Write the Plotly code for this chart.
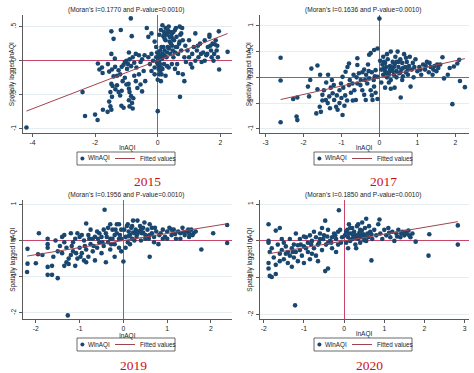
import plotly.graph_objects as go

# ---------------- data ----------------
years = ["2015", "2017", "2019", "2020"]
moran_i = [0.1770, 0.1636, 0.1956, 0.1850]
p_values = [0.0010, 0.0010, 0.0010, 0.0010]
fit_intercepts = [0.003, -0.005, 0.000, -0.002]

x_tickvals = [[-4, -2, 0, 2], [-3, -2, -1, 0, 1, 2], [-2, -1, 0, 1, 2], [-2, -1, 0, 1, 2, 3]]
x_ticktext = [["-4", "-2", "0", "2"], ["-3", "-2", "-1", "0", "1", "2"],
              ["-2", "-1", "0", "1", "2"], ["-2", "-1", "0", "1", "2", "3"]]
y_tickvals = [[0.5, 0, -0.5, -1], [1, 0.5, 0, -0.5, -1], [1, 0, -1, -2], [1, 0, -1, -2]]
y_ticktext = [[".5", "0", "-.5", "-1"], ["1", ".5", "0", "-.5", "-1"],
              ["1", "0", "-1", "-2"], ["1", "0", "-1", "-2"]]

pts_2015 = [
    (-4.19, -0.98), (-2.40, -0.46), (-2.32, -0.81), (-2.0, -0.79), (-1.92, -0.87),
    (-1.91, -0.04), (-1.78, -0.10), (-1.86, -0.13), (-1.76, -0.18), (-1.59, -0.05), (-1.55, -0.16),
    (-1.46, -0.13), (-1.36, -0.09), (-1.25, -0.14), (-1.20, -0.20), (-1.15, -0.09), (-1.09, -0.06),
    (-1.30, -0.22), (-1.41, -0.23), (-1.37, 0.03), (-1.48, 0.10), (-1.05, -0.02), (-1.0, 0.0),
    (-0.95, -0.05), (-0.9, 0.02), (-0.85, -0.08), (-0.8, 0.05), (-0.75, -0.03), (-0.7, 0.1),
    (-0.92, 0.12), (-0.6, 0.08), (-0.55, -0.02),
    (-1.48, 0.43), (-1.18, 0.45), (-1.41, 0.32), (-0.86, 0.62), (-0.83, 0.36),
    (-1.48, -0.34), (-1.44, -0.37), (-1.35, -0.42), (-1.25, -0.46), (-1.15, -0.44), (-1.20, -0.51),
    (-1.30, -0.36), (-1.51, -0.46), (-1.46, -0.53), (-1.55, -0.60), (-1.51, -0.67), (-1.48, -0.72),
    (-1.16, -0.66), (-1.09, -0.69), (-1.75, -0.72), (-1.6, -0.75),
    (-0.93, -0.34), (-0.92, -0.41), (-0.9, -0.46), (-0.92, -0.58), (-0.9, -0.67), (-0.85, -0.52),
    (-0.82, -0.62), (-0.8, -0.7), (-0.78, -0.55), (-1.0, -0.35), (-1.05, -0.25), (-0.7, -0.3),
    (-0.65, -0.4), (-0.6, -0.2), (-0.55, -0.35), (-0.5, -0.45), (-0.75, -0.22), (-0.45, -0.15),
    (-0.4, -0.3), (-1.12, -0.3), (-0.98, -0.12), (-0.68, -0.1), (-0.5, 0.02), (-0.42, 0.08),
    (-0.3, 0.05), (-0.25, -0.05), (-0.2, 0.1), (-0.15, 0.0), (-0.1, -0.1), (-0.05, 0.05),
    (0.0, -0.05), (0.02, 0.1), (0.05, 0.0), (0.08, -0.15), (0.1, 0.05), (0.12, -0.2), (0.15, 0.1),
    (0.18, 0.2), (0.2, -0.05), (0.22, 0.15), (0.25, 0.3), (0.28, 0.05), (0.3, 0.4), (0.32, 0.2),
    (0.35, -0.1), (0.38, 0.35), (0.4, 0.1), (0.42, 0.25), (0.45, 0.4), (0.48, 0.15), (0.5, 0.05),
    (0.52, 0.3), (0.55, 0.45), (0.58, 0.2), (0.6, 0.35), (0.62, -0.05), (0.65, 0.1), (0.68, 0.25),
    (0.7, 0.5), (0.72, 0.38), (0.75, 0.15), (0.78, 0.48), (0.8, 0.3), (0.85, 0.05), (0.88, 0.22),
    (0.9, -0.02),
    (-0.35, 0.48), (-0.3, 0.35), (-0.2, 0.4), (-0.1, 0.28), (-0.05, 0.2), (0.05, 0.38), (0.1, 0.45),
    (0.15, 0.52), (0.2, 0.42), (0.25, 0.48), (0.35, 0.5), (0.4, 0.42), (0.05, -0.2), (0.0, -0.28),
    (0.1, -0.3), (0.15, -0.12), (0.25, -0.22), (0.3, -0.08), (0.45, -0.05), (0.55, -0.12),
    (0.65, -0.18), (0.8, -0.2), (0.85, -0.3), (-0.1, -0.2), (-0.2, -0.15), (0.02, 0.02),
    (0.04, -0.08), (0.06, 0.08), (-0.02, 0.12),
    (0.28, 0.38), (0.33, 0.44), (0.38, 0.28), (0.43, 0.36), (0.48, 0.32), (0.5, 0.42),
    (0.22, 0.32), (0.18, 0.36), (0.12, 0.2), (0.08, 0.15), (0.03, -0.12), (-0.03, -0.02),
    (0.07, -0.05), (0.1, -0.1), (0.14, 0.03), (0.2, 0.08), (0.3, 0.12), (0.36, 0.18),
    (0.46, 0.22), (0.55, 0.12), (0.62, 0.2), (0.7, 0.28), (0.75, 0.4), (0.58, 0.48),
    (1.0, 0.05), (1.05, -0.05), (1.1, 0.1), (1.15, 0.2), (1.2, 0.0), (1.25, 0.15), (1.3, 0.05),
    (1.35, 0.25), (1.4, -0.02), (1.45, 0.12), (1.5, 0.3), (1.55, 0.08), (1.6, 0.2), (1.65, 0.35),
    (1.7, 0.15), (1.75, 0.25), (1.8, 0.1), (1.85, 0.3), (1.9, 0.22), (1.92, 0.05), (1.2, 0.4),
    (1.65, 0.38), (1.0, 0.3), (0.95, 0.15), (1.1, -0.1), (1.5, 0.0), (1.78, -0.0), (1.58, 0.1),
    (1.38, 0.1), (1.68, 0.22), (1.88, 0.15), (1.28, 0.22), (1.72, 0.05), (1.82, 0.24),
    (0.0, -0.74), (0.71, -0.53), (1.96, -0.13), (2.23, 0.13), (1.95, 0.43),
]

pts_2017 = [
    (0.0, 1.14), (-2.6, 0.38), (-2.6, -0.06), (-2.6, -0.87), (-2.27, -0.42), (-2.16, -0.39),
    (-2.18, -0.76), (-2.16, -0.83),
    (-1.85, -0.37), (-1.82, -0.05), (-1.79, 0.17), (-1.88, -0.18), (-1.63, 0.23), (-1.56, 0.05),
    (-1.63, -0.23), (-1.50, -0.34), (-1.57, -0.57), (-1.66, -0.70), (-1.54, -0.67), (-1.46, -0.25),
    (-1.41, -0.44), (-1.36, -0.5), (-1.32, -0.37), (-1.23, -0.31), (-1.19, -0.44), (-1.14, -0.57),
    (-1.10, -0.63), (-1.05, -0.25), (-1.01, -0.12), (-0.97, 0.01), (-0.97, -0.73), (-0.89, 0.11),
    (-0.84, 0.2), (-0.8, 0.27), (-0.71, -0.12), (-0.66, -0.25), (-0.62, -0.44), (-0.58, -0.12),
    (-0.54, 0.08), (-0.49, -0.05), (-0.45, -0.25), (-0.4, -0.34), (-0.36, -0.44), (-0.32, -0.12),
    (-0.27, -0.02), (-0.23, -0.25), (-0.18, -0.44), (-0.14, -0.18), (-0.1, 0.14), (-0.05, 0.01),
    (-0.23, 0.47), (-0.27, 0.44), (-0.14, 0.53), (-0.05, 0.56), (-0.58, 0.37), (-0.58, 0.24),
    (-1.3, -0.6), (-1.2, -0.15), (-1.25, -0.05), (-0.9, -0.35), (-0.85, -0.45), (-0.75, -0.3),
    (-0.7, -0.45), (-0.6, 0.0), (-0.45, 0.1), (-0.4, 0.15), (-0.35, 0.05), (-0.3, 0.25),
    (-0.2, 0.1), (-0.15, -0.05), (-1.4, -0.1), (-1.35, 0.05), (-1.0, -0.4), (-1.05, -0.5),
    (-0.95, -0.2), (-0.8, -0.15), (-0.1, -0.3), (-0.05, -0.42), (-0.2, -0.35),
    (-1.5, -0.45), (-1.28, -0.2), (-1.12, -0.35), (-0.92, -0.55), (-0.78, -0.05), (-0.68, 0.05),
    (-0.5, -0.15), (-0.38, -0.05), (-0.28, 0.12), (-0.12, 0.02),
    (0.02, 0.32), (0.05, 0.15), (0.08, 0.25), (0.1, 0.05), (0.12, 0.3), (0.15, 0.12), (0.18, 0.2),
    (0.2, 0.0), (0.22, 0.35), (0.25, 0.1), (0.28, 0.22), (0.3, -0.05), (0.32, 0.18), (0.35, 0.3),
    (0.38, 0.05), (0.4, 0.25), (0.42, 0.4), (0.45, 0.12), (0.48, 0.5), (0.5, 0.2), (0.52, 0.08),
    (0.55, 0.35), (0.58, 0.15), (0.6, 0.28), (0.62, 0.02), (0.65, 0.45), (0.68, 0.2), (0.7, 0.1),
    (0.72, 0.3), (0.75, 0.05), (0.78, 0.22), (0.8, 0.4), (0.85, 0.15), (0.88, 0.28), (0.9, 0.0),
    (0.95, 0.35), (1.0, 0.12), (1.05, 0.2), (1.1, 0.05), (1.15, 0.25), (1.2, 0.15), (1.25, 0.3),
    (1.3, 0.1), (1.35, 0.2), (1.4, 0.05), (1.45, 0.22), (1.5, 0.12), (1.55, 0.18), (1.6, 0.25),
    (0.1, 0.4), (0.2, 0.45), (0.3, 0.5), (0.05, -0.1), (0.15, -0.2), (0.25, -0.1), (0.4, -0.2),
    (0.3, -0.22), (0.45, 0.0), (0.6, -0.05), (0.35, 0.12), (0.5, 0.3), (0.7, 0.38), (0.15, 0.28),
    (0.25, 0.05), (0.12, 0.18), (0.18, 0.08), (0.28, 0.15), (0.38, 0.2), (0.45, 0.3),
    (0.55, 0.1), (0.62, 0.18), (0.75, 0.15), (0.92, 0.2), (1.08, 0.15), (1.22, 0.22),
    (1.32, 0.28), (1.42, 0.15), (1.52, 0.25),
    (0.56, -0.39), (0.82, -0.18), (1.92, -0.52), (2.12, -0.07), (2.25, -0.19), (1.96, 0.21),
    (2.05, 0.27), (2.1, 0.34), (1.66, 0.39), (1.70, -0.02), (1.85, 0.18), (1.8, 0.05),
]

pts_2019 = [
    (-1.27, -2.07), (-0.43, 0.85), (-2.19, -0.23), (-2.19, -0.64), (-2.2, -0.87), (-2.0, -0.63),
    (-1.93, 0.2), (-1.95, -0.38), (-1.73, 0.05), (-1.73, -0.1), (-1.73, -0.2), (-1.73, -0.73),
    (-1.73, -0.95), (-1.63, -0.95), (-1.63, -0.7), (-1.5, -1.04), (-1.85, -0.4),
    (0.0, -0.58), (0.6, -0.45), (1.78, -0.25), (2.05, 0.2), (2.37, 0.43), (2.37, -0.07),
    (-0.85, 0.47),
    (-1.4, 0.1), (-1.35, -0.05), (-1.3, -0.2), (-1.3, -0.6), (-1.25, -0.65), (-1.2, -0.4),
    (-1.2, 0.2), (-1.15, -0.3), (-1.1, 0.05), (-1.1, -0.7), (-1.05, -0.5), (-1.0, -0.2),
    (-1.0, 0.1), (-0.95, -0.35), (-0.9, -0.55), (-0.9, 0.0), (-0.85, -0.25), (-0.8, -0.45),
    (-0.8, 0.15), (-0.75, -0.1), (-0.7, -0.3), (-0.7, 0.05), (-0.65, -0.55), (-0.6, -0.2),
    (-0.6, 0.25), (-0.55, -0.05), (-0.5, -0.35), (-0.5, 0.1), (-0.45, -0.15), (-0.4, 0.2),
    (-0.4, -0.6), (-0.35, -0.05), (-0.3, 0.05), (-0.3, -0.25), (-0.25, 0.3), (-0.2, -0.1),
    (-0.2, 0.15), (-0.15, 0.45), (-0.1, -0.2), (-0.1, 0.05), (-0.05, 0.3), (-0.05, -0.3),
    (-1.4, -0.35), (-1.45, -0.15), (-1.35, -0.7), (-1.15, -0.05), (-1.05, 0.2), (-0.95, 0.15),
    (-0.85, -0.6), (-0.75, 0.3), (-0.65, 0.1), (-0.55, 0.2), (-0.45, 0.3), (-0.35, 0.35),
    (-0.25, 0.05), (-0.15, 0.2), (-0.3, 0.45), (-1.5, -0.3), (-1.55, 0.0), (-1.6, -0.45),
    (-1.35, 0.15), (-0.2, -0.45), (-0.1, 0.45), (-0.05, 0.05),
    (-1.25, -0.5), (-1.18, -0.15), (-1.08, -0.35), (-0.98, -0.45), (-0.88, -0.15),
    (-0.78, 0.05), (-0.68, -0.15), (-0.58, 0.05), (-0.48, -0.05), (-0.38, 0.1), (-0.28, -0.1),
    (-0.18, 0.3), (-0.08, 0.15),
    (0.02, 0.3), (0.05, 0.1), (0.08, 0.4), (0.1, -0.05), (0.12, 0.25), (0.15, 0.15), (0.18, 0.35),
    (0.2, 0.05), (0.22, 0.55), (0.25, 0.2), (0.28, 0.3), (0.3, 0.1), (0.32, 0.55), (0.35, 0.25),
    (0.38, 0.4), (0.4, 0.0), (0.42, 0.2), (0.45, 0.35), (0.48, 0.5), (0.5, 0.15), (0.55, 0.3),
    (0.58, 0.05), (0.6, 0.45), (0.65, 0.2), (0.7, 0.1), (0.72, 0.35), (0.75, 0.25), (0.8, -0.1),
    (0.85, 0.2), (0.9, 0.3), (0.95, 0.1), (1.0, 0.25), (1.05, 0.35), (1.1, 0.15), (1.15, 0.3),
    (1.2, 0.05), (1.25, 0.25), (1.3, 0.2), (1.35, 0.35), (1.4, 0.15), (1.45, 0.25), (1.5, 0.1),
    (1.55, 0.3), (1.6, 0.2), (1.65, 0.25), (0.1, 0.45), (0.2, 0.4), (0.3, 0.25), (0.4, 0.3),
    (0.5, 0.05), (0.6, 0.15), (0.9, 0.05), (1.1, 0.3), (1.3, 0.05), (1.5, 0.2), (0.05, -0.2),
    (0.15, -0.1), (0.7, -0.05), (1.0, 0.05), (0.25, 0.0),
    (0.12, 0.12), (0.22, 0.22), (0.32, 0.18), (0.45, 0.22), (0.55, 0.12), (0.65, 0.35),
    (0.82, 0.15), (1.18, 0.18), (1.38, 0.22), (1.48, 0.3), (1.58, 0.15),
]

pts_2020 = [
    (-1.88, 0.0), (-1.88, -0.05), (-1.85, -0.3), (-1.8, -0.2), (-1.75, -0.45), (-1.7, 0.28),
    (-1.65, -0.1), (-1.6, -0.35), (-1.55, -0.25), (-1.5, -0.5), (-1.45, -0.15), (-1.4, -0.6),
    (-1.4, -0.3), (-1.35, -0.4), (-1.3, -0.2), (-1.3, -0.7), (-1.25, -0.45), (-1.2, -0.3),
    (-1.2, 0.2), (-1.15, -0.55), (-1.1, -0.25), (-1.1, 0.05), (-1.05, -0.4), (-1.0, -0.15),
    (-1.0, -0.6), (-0.95, 0.1), (-0.9, -0.3), (-0.9, -0.05), (-0.85, -0.5), (-0.8, 0.0),
    (-0.75, -0.2), (-0.75, 0.25), (-0.7, -0.4), (-0.65, -0.1), (-0.6, 0.05), (-0.55, -0.25),
    (-0.5, 0.15), (-0.45, -0.1), (-0.4, 0.3), (-0.35, 0.0), (-0.3, -0.2), (-0.25, 0.2),
    (-0.2, 0.05), (-0.15, -0.1), (-0.1, 0.3), (-0.05, 0.1), (-1.6, -0.55), (-1.5, -0.05),
    (-1.35, 0.05), (-1.7, -0.65), (-1.55, 0.05), (-1.25, -0.1), (-0.85, 0.15), (-0.65, -0.55),
    (-0.55, 0.35), (-0.3, 0.1), (-0.2, -0.3), (-0.6, 0.2), (-0.4, -0.05), (-0.15, 0.25),
    (-1.0, 0.12), (-1.15, -0.12), (-0.8, -0.35), (-0.7, 0.1), (-1.88, -0.6), (-1.88, -0.75),
    (-1.85, -0.95), (-1.8, -0.98), (-1.7, -0.9), (-1.6, 0.35), (-0.47, -0.82), (-0.4, -0.75),
    (-1.22, -1.75), (-0.13, 0.83), (-1.88, 0.45), (-0.47, 0.55),
    (-1.45, -0.35), (-1.28, -0.3), (-1.08, -0.1), (-0.95, -0.2), (-0.82, -0.1), (-0.62, -0.05),
    (-0.52, 0.05), (-0.42, 0.12), (-0.32, -0.05), (-0.22, 0.15), (-0.08, -0.05),
    (0.02, 0.15), (0.05, -0.05), (0.08, 0.3), (0.1, 0.1), (0.12, 0.45), (0.15, 0.0), (0.18, 0.2),
    (0.2, 0.35), (0.22, 0.08), (0.25, 0.25), (0.28, -0.1), (0.3, 0.15), (0.32, 0.4), (0.35, 0.05),
    (0.38, 0.22), (0.4, 0.3), (0.42, 0.1), (0.45, 0.5), (0.48, 0.18), (0.5, 0.02), (0.52, 0.35),
    (0.55, 0.6), (0.58, 0.2), (0.6, 0.1), (0.62, 0.4), (0.65, 0.25), (0.7, 0.05), (0.75, 0.3),
    (0.8, 0.15), (0.85, 0.45), (0.9, 0.2), (0.95, 0.05), (1.0, 0.3), (1.05, 0.15), (1.1, 0.35),
    (1.15, 0.1), (1.2, 0.25), (1.25, 0.0), (1.3, 0.2), (1.35, 0.3), (1.4, 0.1), (1.45, 0.25),
    (1.5, 0.15), (1.55, 0.2), (1.6, 0.28), (1.65, 0.1), (1.7, 0.2), (0.1, -0.2), (0.3, -0.2),
    (0.2, 0.05), (0.4, -0.05), (0.05, 0.25), (0.15, 0.35), (0.35, 0.45), (0.45, 0.15),
    (0.25, 0.1), (0.55, 0.0),
    (0.12, 0.2), (0.22, 0.18), (0.28, 0.08), (0.36, 0.15), (0.44, 0.28), (0.52, 0.12),
    (0.68, 0.18), (1.12, 0.22), (1.32, 0.12), (1.42, 0.2), (1.52, 0.25), (1.62, 0.15),
    (0.68, -0.53), (1.78, -0.02), (2.1, -0.4), (2.12, 0.18), (2.83, 0.42), (2.83, -0.1),
    (0.88, 0.58),
]

all_pts = [pts_2015, pts_2017, pts_2019, pts_2020]

# ---------------- layout / style ----------------
W, H = 474, 373
FONT = "Liberation Sans, Arial, sans-serif"
NAVY = "#1a476f"
FIT = "#a0454f"
REF = "#c8466a"
GRID = "#e6edf0"
AX = "#5a5a5a"

# plot boxes in pixels (left, right, top, bottom)
boxes = [(22.7, 232.0, 15, 133), (259.7, 468.7, 15, 133),
         (22.7, 232.0, 200, 319), (259.7, 468.7, 200, 319)]
x_ranges = [(-4.31, 2.37), (-3.15, 2.35), (-2.3, 2.48), (-2.1, 3.1)]
y_ranges = [(-1.06, 0.67), (-1.08, 1.21), (-2.17, 1.12), (-2.12, 1.11)]
year_pos = [(147, 181), (383, 181), (133, 365.5), (369, 365.5)]


def px(x):
    return x / W


def py(y):
    return 1 - y / H


fig = go.Figure()
layout = dict(
    width=W, height=H, margin=dict(l=0, r=0, t=0, b=0),
    paper_bgcolor="white", plot_bgcolor="white", showlegend=False,
    font=dict(family=FONT, size=7, color="#222"),
)
annotations = []
shapes = []

for i, pts in enumerate(all_pts):
    suf = "" if i == 0 else str(i + 1)
    xs = [p[0] for p in pts]
    ys = [p[1] for p in pts]
    l, r, t, b = boxes[i]
    fig.add_trace(go.Scatter(
        x=xs, y=ys, mode="markers", name="WlnAQI",
        marker=dict(color=NAVY, size=4.6, line=dict(width=0)),
        xaxis="x" + suf, yaxis="y" + suf,
    ))
    xmin, xmax = min(xs), max(xs)
    fit_x = [xmin, xmax]
    fit_y = [fit_intercepts[i] + moran_i[i] * v for v in fit_x]
    fig.add_trace(go.Scatter(
        x=fit_x, y=fit_y, mode="lines", name="Fitted values",
        line=dict(color=FIT, width=1),
        xaxis="x" + suf, yaxis="y" + suf,
    ))
    layout["xaxis" + suf] = dict(
        domain=[px(l), px(r)], range=list(x_ranges[i]), anchor="y" + suf,
        tickvals=x_tickvals[i], ticktext=x_ticktext[i],
        showgrid=False, zeroline=True, zerolinecolor=REF, zerolinewidth=1.2,
        showline=True, linecolor=AX, linewidth=1, ticks="outside", ticklen=3,
        tickcolor=AX, tickfont=dict(size=6.8, color="#222"),
        title=dict(text="lnAQI", font=dict(size=6.5, color="#222"), standoff=0),
    )
    layout["yaxis" + suf] = dict(
        domain=[py(b), py(t)], range=list(y_ranges[i]), anchor="x" + suf,
        tickvals=y_tickvals[i], ticktext=y_ticktext[i], tickangle=-90,
        showgrid=True, gridcolor=GRID, gridwidth=1,
        zeroline=True, zerolinecolor=REF, zerolinewidth=1.2,
        showline=True, linecolor=AX, linewidth=1, ticks="outside", ticklen=3,
        tickcolor=AX, tickfont=dict(size=6.5, color="#222"),
    )
    # y axis title
    annotations.append(dict(
        x=px(l - 10.5), y=py((t + b) / 2), xref="paper", yref="paper",
        text="Spatially lagged lnAQI", textangle=-90, showarrow=False,
        font=dict(size=6.5, color="#222"), xanchor="center", yanchor="middle",
    ))
    # panel title
    annotations.append(dict(
        x=px((l + r) / 2 - 1), y=py(t - 5), xref="paper", yref="paper",
        text="(Moran's I=%.4f and P-value=%.4f)" % (moran_i[i], p_values[i]),
        showarrow=False, font=dict(size=6.6, color="#222"), xanchor="center", yanchor="middle",
    ))
    # year label
    yx, yy = year_pos[i]
    annotations.append(dict(
        x=px(yx), y=py(yy), xref="paper", yref="paper", text=years[i], showarrow=False,
        font=dict(family="Liberation Serif, Times New Roman, serif", size=13.5, color="#d01010"),
        xanchor="center", yanchor="middle",
    ))
    # legend box
    ox = l + 54.3
    oy = 152 if t < 100 else 338
    shapes.append(dict(type="rect", xref="paper", yref="paper",
                       x0=px(ox), x1=px(ox + 98), y0=py(oy), y1=py(oy + 13),
                       line=dict(color="#444", width=0.8), fillcolor="white"))
    shapes.append(dict(type="circle", xref="paper", yref="paper",
                       x0=px(ox + 3.4), x1=px(ox + 7.4), y0=py(oy + 4.5), y1=py(oy + 8.5),
                       line=dict(width=0), fillcolor=NAVY))
    annotations.append(dict(x=px(ox + 9), y=py(oy + 6.5), xref="paper", yref="paper",
                            text="WlnAQI", showarrow=False, xanchor="left", yanchor="middle",
                            font=dict(size=6.3, color="#222")))
    shapes.append(dict(type="line", xref="paper", yref="paper",
                       x0=px(ox + 38), x1=px(ox + 58), y0=py(oy + 6.5), y1=py(oy + 6.5),
                       line=dict(color=FIT, width=1)))
    annotations.append(dict(x=px(ox + 60.5), y=py(oy + 6.5), xref="paper", yref="paper",
                            text="Fitted values", showarrow=False, xanchor="left", yanchor="middle",
                            font=dict(size=6.3, color="#222")))

layout["annotations"] = annotations
layout["shapes"] = shapes
fig.update_layout(**layout)
fig.write_html(
    "out.html",
    config={"displayModeBar": False},
    post_script="document.body.style.margin='0';document.body.style.padding='0';"
                "document.body.style.overflow='hidden';",
)
